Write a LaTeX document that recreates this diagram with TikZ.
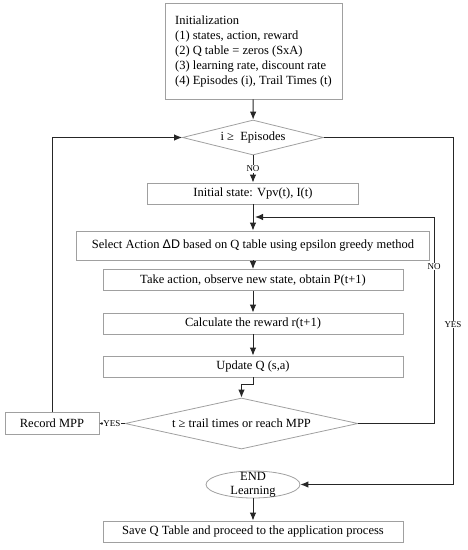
\documentclass[tikz,border=0pt]{standalone}
\usepackage{fontspec}
\setmainfont{Liberation Serif}
\newfontfamily\deltafont{Liberation Sans}
\usepackage{tikz}
\usetikzlibrary{arrows.meta}
\usetikzlibrary{shapes.geometric}
\definecolor{boxgray}{HTML}{A0A0A0}
\definecolor{linegray}{HTML}{262626}
\tikzset {
  >={Latex[length=8pt, width=6.5pt]},
  % process boxes
  main/.style = {draw=boxgray, line width=0.8pt, rectangle, inner sep=0pt,
    minimum height=21pt, font=\fontsize{12.5}{15}\selectfont},
  % decision vertices
  test/.style = {draw=boxgray, line width=0.8pt, diamond, aspect=4, inner sep=0pt,
    font=\fontsize{12.5}{15}\selectfont},
  % start / end vertex
  term/.style = {draw=boxgray, line width=0.8pt, ellipse, inner sep=0pt},
  % small labels on the connectors
  tag/.style = {fill=white, inner sep=0.5pt, font=\fontsize{9}{10}\selectfont},
  % tiny tip for the short link
  tiny/.style = {-{Latex[length=3pt, width=3pt]}},
}

\begin{document}
\begin{tikzpicture}[x=1pt, y=-1pt, line width=1pt, draw=linegray]
      \useasboundingbox (0,0) rectangle (467,550);

      \node[main, minimum width=177, minimum height=96, align=left] (init) at (253.5, 51)
        {Initialization\\(1) states, action, reward\\(2) Q table = zeros (SxA)\\(3) learning rate, discount rate\\(4) Episodes (i), Trail Times (t)};
      \node[test, minimum width=141, minimum height=35] (epis) at (253, 137.5) {i ≥ \ Episodes};
      \node[main, minimum width=211] (start) at (253, 193.5) {Initial state: Vpv(t), I(t)};
      \node[main, minimum width=353, minimum height=29] (select) at (253, 245.5)
        {Select Action {\deltafont ΔD} based on Q table using epsilon greedy method};
      \node[main, minimum width=300] (take) at (253, 280) {Take action, observe new state, obtain P(t+1)};
      \node[main, minimum width=300] (reward) at (253, 323.5) {Calculate the reward r(t+1)};
      \node[main, minimum width=300] (update) at (253, 366.5) {Update Q (s,a)};
      \node[test, minimum width=233, minimum height=51] (mpp) at (241.5, 423.5) {t ≥ trail times or reach MPP};
      \node[main, minimum width=94, minimum height=22] (record) at (52, 423.5) {Record MPP};
      \node[term, minimum width=94, minimum height=27,
        label={[align=center, font=\fontsize{12.5}{14}\selectfont]center:END\\Learning}] (endl) at (253, 484.5) {};
      \node[main, minimum width=300] (save) at (253, 531.5) {Save Q Table and proceed to the application process};

      \coordinate (rejoin) at (255, 217);
      \coordinate (noturn) at (434, 217);
      \coordinate (yesturn) at (453, 484.5);

      \draw [->] (init) -- (epis);
      \draw [->] (epis) -- node[tag] {NO} (start);
      \draw [->] (start) -- (select);
      \draw [->] (select) -- (take);
      \draw [->] (take) -- (reward);
      \draw [->] (reward) -- (update);
      \draw [->] (update.south) -- ++(0,7) -| (mpp);

      \draw [tiny] (mpp) -- node[tag] {YES} (record);
      \draw [->] (record) |- (epis);
      \draw [->] (mpp) -| node[tag, pos=0.88] {NO} (noturn) -- (rejoin);

      \draw [->] (epis) -| node[tag, pos=0.77] {YES} (yesturn) -- (endl);
      \draw [->] (endl) -- (save);
    \end{tikzpicture}
\end{document}
